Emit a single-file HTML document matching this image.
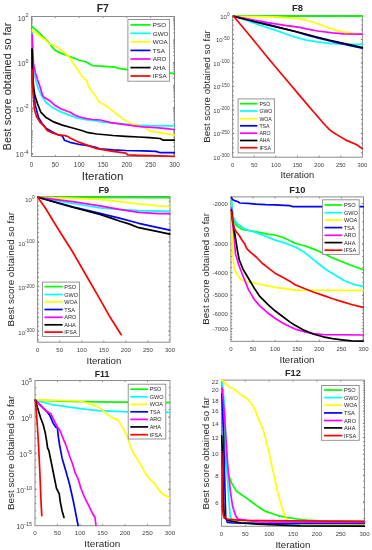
<!DOCTYPE html><html><head><meta charset="utf-8"><style>html,body{margin:0;padding:0;background:#fff;width:372px;height:550px;overflow:hidden}svg{display:block;will-change:transform}text{font-family:"Liberation Sans", sans-serif}</style></head><body>
<svg width="372" height="550" viewBox="0 0 372 550">
<rect width="372" height="550" fill="#fff"/>
<clipPath id="cF7"><rect x="30.5" y="15" width="145" height="143"/></clipPath>
<g fill="none" stroke="#8c8c8c" stroke-width="1">
<rect x="31.5" y="16.5" width="143" height="140"/>
<path d="M55.33 156.5v-1.6M55.33 16.5v1.6M79.17 156.5v-1.6M79.17 16.5v1.6M103 156.5v-1.6M103 16.5v1.6M126.83 156.5v-1.6M126.83 16.5v1.6M150.67 156.5v-1.6M150.67 16.5v1.6M31.5 62.5h1.6M174.5 62.5h-1.6M31.5 108h1.6M174.5 108h-1.6M31.5 153.5h1.6M174.5 153.5h-1.6"/>
<path d="M31.5 154.54h1.3M174.5 154.54h-1.3M31.5 153.5h1.3M174.5 153.5h-1.3M31.5 146.65h1.3M174.5 146.65h-1.3M31.5 142.65h1.3M174.5 142.65h-1.3M31.5 139.8h1.3M174.5 139.8h-1.3M31.5 137.6h1.3M174.5 137.6h-1.3M31.5 135.8h1.3M174.5 135.8h-1.3M31.5 134.27h1.3M174.5 134.27h-1.3M31.5 132.95h1.3M174.5 132.95h-1.3M31.5 131.79h1.3M174.5 131.79h-1.3M31.5 130.75h1.3M174.5 130.75h-1.3M31.5 123.9h1.3M174.5 123.9h-1.3M31.5 119.9h1.3M174.5 119.9h-1.3M31.5 117.05h1.3M174.5 117.05h-1.3M31.5 114.85h1.3M174.5 114.85h-1.3M31.5 113.05h1.3M174.5 113.05h-1.3M31.5 111.52h1.3M174.5 111.52h-1.3M31.5 110.2h1.3M174.5 110.2h-1.3M31.5 109.04h1.3M174.5 109.04h-1.3M31.5 108h1.3M174.5 108h-1.3M31.5 101.15h1.3M174.5 101.15h-1.3M31.5 97.15h1.3M174.5 97.15h-1.3M31.5 94.3h1.3M174.5 94.3h-1.3M31.5 92.1h1.3M174.5 92.1h-1.3M31.5 90.3h1.3M174.5 90.3h-1.3M31.5 88.77h1.3M174.5 88.77h-1.3M31.5 87.45h1.3M174.5 87.45h-1.3M31.5 86.29h1.3M174.5 86.29h-1.3M31.5 85.25h1.3M174.5 85.25h-1.3M31.5 78.4h1.3M174.5 78.4h-1.3M31.5 74.4h1.3M174.5 74.4h-1.3M31.5 71.55h1.3M174.5 71.55h-1.3M31.5 69.35h1.3M174.5 69.35h-1.3M31.5 67.55h1.3M174.5 67.55h-1.3M31.5 66.02h1.3M174.5 66.02h-1.3M31.5 64.7h1.3M174.5 64.7h-1.3M31.5 63.54h1.3M174.5 63.54h-1.3M31.5 62.5h1.3M174.5 62.5h-1.3M31.5 55.65h1.3M174.5 55.65h-1.3M31.5 51.65h1.3M174.5 51.65h-1.3M31.5 48.8h1.3M174.5 48.8h-1.3M31.5 46.6h1.3M174.5 46.6h-1.3M31.5 44.8h1.3M174.5 44.8h-1.3M31.5 43.27h1.3M174.5 43.27h-1.3M31.5 41.95h1.3M174.5 41.95h-1.3M31.5 40.79h1.3M174.5 40.79h-1.3M31.5 39.75h1.3M174.5 39.75h-1.3M31.5 32.9h1.3M174.5 32.9h-1.3M31.5 28.9h1.3M174.5 28.9h-1.3M31.5 26.05h1.3M174.5 26.05h-1.3M31.5 23.85h1.3M174.5 23.85h-1.3M31.5 22.05h1.3M174.5 22.05h-1.3M31.5 20.52h1.3M174.5 20.52h-1.3M31.5 19.2h1.3M174.5 19.2h-1.3M31.5 18.04h1.3M174.5 18.04h-1.3" stroke="#7a7a7a" stroke-width="0.9"/>
</g>
<g clip-path="url(#cF7)" fill="none" stroke-width="1.7" stroke-linejoin="round" stroke-linecap="round">
<path stroke="#00ff00" d="M32 26.4 L40.9 34.6 L47.4 41 L51.7 46.4 L54.9 50.3 L60 52.9 L66.5 55.3 L72.9 57.7 L79.4 60.2 L85.8 61.8 L92.3 65.5 L100.3 66.1 L108.4 66.6 L114.8 67.1 L120 68.7 L128 69.6 L150 71.5 L174 73.3"/>
<path stroke="#00ffff" d="M32.1 32.4 L32.4 56.4 L33.8 70.9 L36 81.1 L38.5 89.5 L41.2 95 L42.9 97.7 L46.1 102.5 L51.5 106.8 L59 111.1 L70 115.4 L76.1 117.7 L84 119.5 L96.8 120.9 L100 121.9 L112.9 123 L125.8 124.1 L136.6 125.2 L149.5 125.6 L174.2 125.8"/>
<path stroke="#ffff00" d="M32 30.3 L38.8 35.2 L45.2 40 L49.5 43.8 L53.8 45.3 L58.1 47.5 L60 49.4 L64.8 52.9 L68.9 56.9 L72.9 62.6 L77.7 69.8 L82.6 77.1 L86.6 80.3 L88.2 85.2 L90.6 90 L94.7 94.8 L97.1 98.9 L99.5 102.1 L105.2 105.3 L111.6 110.2 L120 116.6 L125.8 120.9 L132.3 124.1 L138.7 125.6 L145.2 127.7 L150.5 131.2 L158.1 132.3 L166.7 133.8 L174.2 134.8"/>
<path stroke="#0000ff" d="M32.1 49 L32.3 80 L33.8 95 L35.4 105.8 L38.6 117.6 L41.8 123 L46.1 128.3 L51.5 131.6 L58 134.8 L62.3 135.9 L64.4 140.2 L70 142.3 L79.6 144.5 L88.2 145.6 L96.8 147.7 L100 148.8 L112.9 149.9 L125.8 150.5 L143 150.9 L155.9 151.4 L160.2 152.7 L174.2 152.7"/>
<path stroke="#ff00ff" d="M32.1 34.5 L32.7 49.1 L33.5 63.6 L35.3 72.4 L37.5 79.6 L39.6 85.5 L41.8 92.7 L42.4 95 L44 97.2 L49.4 100.4 L54.7 105.2 L61.2 109 L70 112.2 L76.1 115.8 L84.2 118.2 L92.3 119.5 L100.3 120 L110.8 122.6 L121.5 124.1 L134.4 125.8 L143 126.9 L155.9 127.7 L166.7 128.6 L174.2 129.5"/>
<path stroke="#000000" d="M32.1 49.1 L32.4 63.6 L33.1 81.1 L34 90 L34.8 95 L37.5 103.6 L40.8 112.2 L46.1 117.6 L53.7 121.9 L62.3 125.1 L70 127.3 L81.8 130.5 L88.2 132.7 L96.8 134 L108 135 L112.9 135.5 L125.8 136.3 L138.7 137 L149.5 137.6 L160.2 138.5 L163.4 140.2 L174.2 140.2"/>
<path stroke="#ff0000" d="M32.1 69.5 L32.4 85.5 L33.2 95 L34.3 109 L36.5 116.5 L39.7 121.9 L44 126.2 L47.2 130.5 L51.5 132.6 L58 134.8 L63.3 135.3 L67.6 136.4 L70 138 L79.6 142.4 L88.2 145.6 L96.8 148.6 L100 149.2 L112.9 151.4 L125.8 153.1 L128 154.8 L138.7 155.3 L151.6 155.7 L174.2 156.3"/>
</g>
<rect x="127.9" y="19.5" width="41.5" height="61.7" fill="#fff" stroke="#8a8a8a" stroke-width="0.9"/>
<path d="M130.4 24.9H150.5" stroke="#00ff00" stroke-width="1.7"/>
<text x="152.8" y="27.15" font-size="6.25" fill="#262626">PSO</text>
<path d="M130.4 33.3H150.5" stroke="#00ffff" stroke-width="1.7"/>
<text x="152.8" y="35.55" font-size="6.25" fill="#262626">GWO</text>
<path d="M130.4 41.8H150.5" stroke="#ffff00" stroke-width="1.7"/>
<text x="152.8" y="44.05" font-size="6.25" fill="#262626">WOA</text>
<path d="M130.4 50.4H150.5" stroke="#0000ff" stroke-width="1.7"/>
<text x="152.8" y="52.65" font-size="6.25" fill="#262626">TSA</text>
<path d="M130.4 59H150.5" stroke="#ff00ff" stroke-width="1.7"/>
<text x="152.8" y="61.25" font-size="6.25" fill="#262626">ARO</text>
<path d="M130.4 67.6H150.5" stroke="#000000" stroke-width="1.7"/>
<text x="152.8" y="69.85" font-size="6.25" fill="#262626">AHA</text>
<path d="M130.4 76H150.5" stroke="#ff0000" stroke-width="1.7"/>
<text x="152.8" y="78.25" font-size="6.25" fill="#262626">IFSA</text>
<text x="102.8" y="11.8" font-size="10.4" font-weight="bold" text-anchor="middle" fill="#262626">F7</text>
<text transform="translate(11.2 86.5) rotate(-90)" font-size="11" text-anchor="middle" fill="#262626">Best score obtained so far</text>
<text x="102.5" y="180.1" font-size="11.5" text-anchor="middle" fill="#262626">Iteration</text>
<text x="31.5" y="166.6" font-size="6.4" text-anchor="middle" fill="#404040">0</text>
<text x="55.33" y="166.6" font-size="6.4" text-anchor="middle" fill="#404040">50</text>
<text x="79.17" y="166.6" font-size="6.4" text-anchor="middle" fill="#404040">100</text>
<text x="103" y="166.6" font-size="6.4" text-anchor="middle" fill="#404040">150</text>
<text x="126.83" y="166.6" font-size="6.4" text-anchor="middle" fill="#404040">200</text>
<text x="150.67" y="166.6" font-size="6.4" text-anchor="middle" fill="#404040">250</text>
<text x="174.5" y="166.6" font-size="6.4" text-anchor="middle" fill="#404040">300</text>
<text x="28.5" y="20.52" font-size="7" text-anchor="end" fill="#404040">10<tspan font-size="5.46" dy="-3.15">2</tspan></text>
<text x="28.5" y="66.02" font-size="7" text-anchor="end" fill="#404040">10<tspan font-size="5.46" dy="-3.15">0</tspan></text>
<text x="28.5" y="111.52" font-size="7" text-anchor="end" fill="#404040">10<tspan font-size="5.46" dy="-3.15">-2</tspan></text>
<text x="28.5" y="157.02" font-size="7" text-anchor="end" fill="#404040">10<tspan font-size="5.46" dy="-3.15">-4</tspan></text>
<clipPath id="cF8"><rect x="231.6" y="14.1" width="131.8" height="144.6"/></clipPath>
<g fill="none" stroke="#8c8c8c" stroke-width="1">
<rect x="232.6" y="15.6" width="129.8" height="141.6"/>
<path d="M254.23 157.2v-1.6M254.23 15.6v1.6M275.87 157.2v-1.6M275.87 15.6v1.6M297.5 157.2v-1.6M297.5 15.6v1.6M319.13 157.2v-1.6M319.13 15.6v1.6M340.77 157.2v-1.6M340.77 15.6v1.6M232.6 39.5h1.6M362.4 39.5h-1.6M232.6 63h1.6M362.4 63h-1.6M232.6 86.5h1.6M362.4 86.5h-1.6M232.6 110h1.6M362.4 110h-1.6M232.6 133.5h1.6M362.4 133.5h-1.6"/>
<path d="M232.6 20.32h1.3M362.4 20.32h-1.3M232.6 25.04h1.3M362.4 25.04h-1.3M232.6 29.76h1.3M362.4 29.76h-1.3M232.6 34.48h1.3M362.4 34.48h-1.3M232.6 39.2h1.3M362.4 39.2h-1.3M232.6 43.92h1.3M362.4 43.92h-1.3M232.6 48.64h1.3M362.4 48.64h-1.3M232.6 53.36h1.3M362.4 53.36h-1.3M232.6 58.08h1.3M362.4 58.08h-1.3M232.6 62.8h1.3M362.4 62.8h-1.3M232.6 67.52h1.3M362.4 67.52h-1.3M232.6 72.24h1.3M362.4 72.24h-1.3M232.6 76.96h1.3M362.4 76.96h-1.3M232.6 81.68h1.3M362.4 81.68h-1.3M232.6 86.4h1.3M362.4 86.4h-1.3M232.6 91.12h1.3M362.4 91.12h-1.3M232.6 95.84h1.3M362.4 95.84h-1.3M232.6 100.56h1.3M362.4 100.56h-1.3M232.6 105.28h1.3M362.4 105.28h-1.3M232.6 110h1.3M362.4 110h-1.3M232.6 114.72h1.3M362.4 114.72h-1.3M232.6 119.44h1.3M362.4 119.44h-1.3M232.6 124.16h1.3M362.4 124.16h-1.3M232.6 128.88h1.3M362.4 128.88h-1.3M232.6 133.6h1.3M362.4 133.6h-1.3M232.6 138.32h1.3M362.4 138.32h-1.3M232.6 143.04h1.3M362.4 143.04h-1.3M232.6 147.76h1.3M362.4 147.76h-1.3M232.6 152.48h1.3M362.4 152.48h-1.3" stroke="#7a7a7a" stroke-width="0.9"/>
</g>
<g clip-path="url(#cF8)" fill="none" stroke-width="1.7" stroke-linejoin="round" stroke-linecap="round">
<path stroke="#00ff00" d="M233.4 16.1 L362.4 16.1"/>
<path stroke="#00ffff" d="M233.6 16.3 L248.8 21.3 L258.2 24.6 L267.6 27.8 L276 30.4 L286.5 34.2 L295 37 L300 38.4 L306.3 40.1 L317.6 41.9 L328.9 43.3 L340.2 43.9 L351.5 44.3 L362.4 44.4"/>
<path stroke="#ffff00" d="M233.6 16.4 L258.2 16.6 L277 17.2 L290 17.8 L298 18.6 L306.3 20.3 L317.6 23.5 L327 27.3 L336.4 30.4 L345.8 32.4 L355.2 33.7 L362.4 34.1"/>
<path stroke="#0000ff" d="M233.6 16.3 L248.8 19.6 L267.6 24.4 L286.5 29.2 L295 31.5 L306.3 34.9 L317.6 37.9 L328.9 40.8 L340.2 43.5 L351.5 46 L362.4 48.2"/>
<path stroke="#ff00ff" d="M233.6 16.3 L248.8 19.2 L267.6 22.6 L286.5 25.6 L300 27.4 L306.3 28.8 L317.6 31 L332.6 32.9 L343.9 33.8 L362.4 34.1"/>
<path stroke="#000000" d="M233.6 16.3 L248.8 20.3 L267.6 25 L286.5 29.4 L295 31.3 L306.3 34.3 L317.6 37.2 L328.9 40 L340.2 42.5 L351.5 45.2 L362.4 47.6"/>
<path stroke="#ff0000" d="M233.6 16.3 L250.3 36.2 L267.6 57.5 L280.2 72.5 L290.4 84.5 L300.6 96.6 L310.9 108.8 L321.1 120.5 L325.5 125.5 L329.5 129.6 L333 132.3 L336.4 134.4 L346.6 140.4 L356.8 144.8 L362.2 148.6"/>
</g>
<rect x="238.1" y="98.9" width="36.3" height="54" fill="#fff" stroke="#8a8a8a" stroke-width="0.9"/>
<path d="M240 103.7H257.4" stroke="#00ff00" stroke-width="1.7"/>
<text x="259.4" y="105.57" font-size="5.2" fill="#262626">PSO</text>
<path d="M240 111H257.4" stroke="#00ffff" stroke-width="1.7"/>
<text x="259.4" y="112.87" font-size="5.2" fill="#262626">GWO</text>
<path d="M240 118.7H257.4" stroke="#ffff00" stroke-width="1.7"/>
<text x="259.4" y="120.57" font-size="5.2" fill="#262626">WOA</text>
<path d="M240 125.8H257.4" stroke="#0000ff" stroke-width="1.7"/>
<text x="259.4" y="127.67" font-size="5.2" fill="#262626">TSA</text>
<path d="M240 133.2H257.4" stroke="#ff00ff" stroke-width="1.7"/>
<text x="259.4" y="135.07" font-size="5.2" fill="#262626">ARO</text>
<path d="M240 140.5H257.4" stroke="#000000" stroke-width="1.7"/>
<text x="259.4" y="142.37" font-size="5.2" fill="#262626">AHA</text>
<path d="M240 147.7H257.4" stroke="#ff0000" stroke-width="1.7"/>
<text x="259.4" y="149.57" font-size="5.2" fill="#262626">IFSA</text>
<text x="297.6" y="11.3" font-size="9.4" font-weight="bold" text-anchor="middle" fill="#262626">F8</text>
<text transform="translate(209.8 86.5) rotate(-90)" font-size="9.7" text-anchor="middle" fill="#262626">Best score obtained so far</text>
<text x="297.3" y="178.2" font-size="9.3" text-anchor="middle" fill="#262626">Iteration</text>
<text x="232.6" y="166.59" font-size="5.8" text-anchor="middle" fill="#404040">0</text>
<text x="254.23" y="166.59" font-size="5.8" text-anchor="middle" fill="#404040">50</text>
<text x="275.87" y="166.59" font-size="5.8" text-anchor="middle" fill="#404040">100</text>
<text x="297.5" y="166.59" font-size="5.8" text-anchor="middle" fill="#404040">150</text>
<text x="319.13" y="166.59" font-size="5.8" text-anchor="middle" fill="#404040">200</text>
<text x="340.77" y="166.59" font-size="5.8" text-anchor="middle" fill="#404040">250</text>
<text x="362.4" y="166.59" font-size="5.8" text-anchor="middle" fill="#404040">300</text>
<text x="229.6" y="18.96" font-size="6" text-anchor="end" fill="#404040">10<tspan font-size="4.8" dy="-2.7">0</tspan></text>
<text x="229.6" y="42.46" font-size="6" text-anchor="end" fill="#404040">10<tspan font-size="4.8" dy="-2.7">-50</tspan></text>
<text x="229.6" y="65.96" font-size="6" text-anchor="end" fill="#404040">10<tspan font-size="4.8" dy="-2.7">-100</tspan></text>
<text x="229.6" y="89.46" font-size="6" text-anchor="end" fill="#404040">10<tspan font-size="4.8" dy="-2.7">-150</tspan></text>
<text x="229.6" y="112.96" font-size="6" text-anchor="end" fill="#404040">10<tspan font-size="4.8" dy="-2.7">-200</tspan></text>
<text x="229.6" y="136.46" font-size="6" text-anchor="end" fill="#404040">10<tspan font-size="4.8" dy="-2.7">-250</tspan></text>
<text x="229.6" y="159.96" font-size="6" text-anchor="end" fill="#404040">10<tspan font-size="4.8" dy="-2.7">-300</tspan></text>
<clipPath id="cF9"><rect x="36.6" y="195" width="134.4" height="148.7"/></clipPath>
<g fill="none" stroke="#8c8c8c" stroke-width="1">
<rect x="37.6" y="196.5" width="132.4" height="145.7"/>
<path d="M59.67 342.2v-1.6M59.67 196.5v1.6M81.73 342.2v-1.6M81.73 196.5v1.6M103.8 342.2v-1.6M103.8 196.5v1.6M125.87 342.2v-1.6M125.87 196.5v1.6M147.93 342.2v-1.6M147.93 196.5v1.6M37.6 198.2h1.6M170 198.2h-1.6M37.6 242.5h1.6M170 242.5h-1.6M37.6 286.8h1.6M170 286.8h-1.6M37.6 331h1.6M170 331h-1.6"/>
<path d="M37.6 201.27h1.3M170 201.27h-1.3M37.6 205.74h1.3M170 205.74h-1.3M37.6 210.21h1.3M170 210.21h-1.3M37.6 214.68h1.3M170 214.68h-1.3M37.6 219.15h1.3M170 219.15h-1.3M37.6 223.62h1.3M170 223.62h-1.3M37.6 228.09h1.3M170 228.09h-1.3M37.6 232.56h1.3M170 232.56h-1.3M37.6 237.03h1.3M170 237.03h-1.3M37.6 241.5h1.3M170 241.5h-1.3M37.6 245.97h1.3M170 245.97h-1.3M37.6 250.44h1.3M170 250.44h-1.3M37.6 254.91h1.3M170 254.91h-1.3M37.6 259.38h1.3M170 259.38h-1.3M37.6 263.85h1.3M170 263.85h-1.3M37.6 268.32h1.3M170 268.32h-1.3M37.6 272.79h1.3M170 272.79h-1.3M37.6 277.26h1.3M170 277.26h-1.3M37.6 281.73h1.3M170 281.73h-1.3M37.6 286.2h1.3M170 286.2h-1.3M37.6 290.67h1.3M170 290.67h-1.3M37.6 295.14h1.3M170 295.14h-1.3M37.6 299.61h1.3M170 299.61h-1.3M37.6 304.08h1.3M170 304.08h-1.3M37.6 308.55h1.3M170 308.55h-1.3M37.6 313.02h1.3M170 313.02h-1.3M37.6 317.49h1.3M170 317.49h-1.3M37.6 321.96h1.3M170 321.96h-1.3M37.6 326.43h1.3M170 326.43h-1.3M37.6 330.9h1.3M170 330.9h-1.3M37.6 335.37h1.3M170 335.37h-1.3M37.6 339.84h1.3M170 339.84h-1.3" stroke="#7a7a7a" stroke-width="0.9"/>
</g>
<g clip-path="url(#cF9)" fill="none" stroke-width="1.7" stroke-linejoin="round" stroke-linecap="round">
<path stroke="#00ff00" d="M37.8 197.3 L169.8 197.6"/>
<path stroke="#00ffff" d="M37.8 197.3 L72.6 203.5 L88 206 L100 207.8 L119.4 209.4 L138.7 210.7 L169.8 211.3"/>
<path stroke="#ffff00" d="M37.8 197.3 L72.6 198.4 L100 199.3 L119.4 201.6 L138.7 203.9 L158.1 205.9 L169.8 206.5"/>
<path stroke="#0000ff" d="M37.8 197.3 L72.6 206.9 L100 213.4 L119.4 218.1 L138.7 223.3 L158.1 227.7 L169.8 230.1"/>
<path stroke="#ff00ff" d="M37.8 197.3 L72.6 201.7 L100 205.8 L119.4 209.4 L138.7 212.3 L158.1 213.6 L169.8 213.6"/>
<path stroke="#000000" d="M37.8 197.3 L72.6 207.3 L100 214.5 L109.7 217.6 L119.4 221 L129 223.9 L138.7 227.7 L148.4 229.7 L158.1 231.6 L169.8 234.1"/>
<path stroke="#ff0000" d="M37.8 197.3 L46.3 209.5 L53.8 222 L63.2 237 L72.4 251.5 L84.5 272.5 L97.6 295.2 L108.9 315.2 L121.2 334.7"/>
</g>
<rect x="42.5" y="282.1" width="37" height="54.4" fill="#fff" stroke="#8a8a8a" stroke-width="0.9"/>
<path d="M44.4 286.6H62.6" stroke="#00ff00" stroke-width="1.7"/>
<text x="64.2" y="288.62" font-size="5.6" fill="#262626">PSO</text>
<path d="M44.4 294.5H62.6" stroke="#00ffff" stroke-width="1.7"/>
<text x="64.2" y="296.52" font-size="5.6" fill="#262626">GWO</text>
<path d="M44.4 301.9H62.6" stroke="#ffff00" stroke-width="1.7"/>
<text x="64.2" y="303.92" font-size="5.6" fill="#262626">WOA</text>
<path d="M44.4 309.5H62.6" stroke="#0000ff" stroke-width="1.7"/>
<text x="64.2" y="311.52" font-size="5.6" fill="#262626">TSA</text>
<path d="M44.4 317.3H62.6" stroke="#ff00ff" stroke-width="1.7"/>
<text x="64.2" y="319.32" font-size="5.6" fill="#262626">ARO</text>
<path d="M44.4 324.8H62.6" stroke="#000000" stroke-width="1.7"/>
<text x="64.2" y="326.82" font-size="5.6" fill="#262626">AHA</text>
<path d="M44.4 332.1H62.6" stroke="#ff0000" stroke-width="1.7"/>
<text x="64.2" y="334.12" font-size="5.6" fill="#262626">IFSA</text>
<text x="103.8" y="193" font-size="9.2" font-weight="bold" text-anchor="middle" fill="#262626">F9</text>
<text transform="translate(13.6 269.2) rotate(-90)" font-size="9.85" text-anchor="middle" fill="#262626">Best score obtained so far</text>
<text x="103.9" y="363.6" font-size="9.6" text-anchor="middle" fill="#262626">Iteration</text>
<text x="37.6" y="351.56" font-size="6" text-anchor="middle" fill="#404040">0</text>
<text x="59.67" y="351.56" font-size="6" text-anchor="middle" fill="#404040">50</text>
<text x="81.73" y="351.56" font-size="6" text-anchor="middle" fill="#404040">100</text>
<text x="103.8" y="351.56" font-size="6" text-anchor="middle" fill="#404040">150</text>
<text x="125.87" y="351.56" font-size="6" text-anchor="middle" fill="#404040">200</text>
<text x="147.93" y="351.56" font-size="6" text-anchor="middle" fill="#404040">250</text>
<text x="170" y="351.56" font-size="6" text-anchor="middle" fill="#404040">300</text>
<text x="34.6" y="201.76" font-size="6" text-anchor="end" fill="#404040">10<tspan font-size="4.8" dy="-2.7">0</tspan></text>
<text x="34.6" y="246.06" font-size="6" text-anchor="end" fill="#404040">10<tspan font-size="4.8" dy="-2.7">-100</tspan></text>
<text x="34.6" y="290.36" font-size="6" text-anchor="end" fill="#404040">10<tspan font-size="4.8" dy="-2.7">-200</tspan></text>
<text x="34.6" y="334.56" font-size="6" text-anchor="end" fill="#404040">10<tspan font-size="4.8" dy="-2.7">-300</tspan></text>
<clipPath id="cF10"><rect x="229.9" y="195.4" width="134.6" height="147.5"/></clipPath>
<g fill="none" stroke="#8c8c8c" stroke-width="1">
<rect x="230.9" y="196.9" width="132.6" height="144.5"/>
<path d="M253 341.4v-1.6M253 196.9v1.6M275.1 341.4v-1.6M275.1 196.9v1.6M297.2 341.4v-1.6M297.2 196.9v1.6M319.3 341.4v-1.6M319.3 196.9v1.6M341.4 341.4v-1.6M341.4 196.9v1.6M230.9 203.5h1.6M363.5 203.5h-1.6M230.9 244.2h1.6M363.5 244.2h-1.6M230.9 272.6h1.6M363.5 272.6h-1.6M230.9 295.3h1.6M363.5 295.3h-1.6M230.9 313.4h1.6M363.5 313.4h-1.6M230.9 328.7h1.6M363.5 328.7h-1.6"/>
<path d="M230.9 203.5h1.3M363.5 203.5h-1.3M230.9 213.02h1.3M363.5 213.02h-1.3M230.9 221.71h1.3M363.5 221.71h-1.3M230.9 229.71h1.3M363.5 229.71h-1.3M230.9 237.11h1.3M363.5 237.11h-1.3M230.9 244h1.3M363.5 244h-1.3M230.9 250.45h1.3M363.5 250.45h-1.3M230.9 256.5h1.3M363.5 256.5h-1.3M230.9 262.21h1.3M363.5 262.21h-1.3M230.9 267.61h1.3M363.5 267.61h-1.3M230.9 272.74h1.3M363.5 272.74h-1.3M230.9 277.61h1.3M363.5 277.61h-1.3M230.9 282.26h1.3M363.5 282.26h-1.3M230.9 286.7h1.3M363.5 286.7h-1.3M230.9 290.95h1.3M363.5 290.95h-1.3M230.9 295.03h1.3M363.5 295.03h-1.3M230.9 298.94h1.3M363.5 298.94h-1.3M230.9 302.71h1.3M363.5 302.71h-1.3M230.9 306.35h1.3M363.5 306.35h-1.3M230.9 309.85h1.3M363.5 309.85h-1.3M230.9 313.24h1.3M363.5 313.24h-1.3M230.9 316.51h1.3M363.5 316.51h-1.3M230.9 319.68h1.3M363.5 319.68h-1.3M230.9 322.76h1.3M363.5 322.76h-1.3M230.9 325.74h1.3M363.5 325.74h-1.3M230.9 328.64h1.3M363.5 328.64h-1.3M230.9 331.45h1.3M363.5 331.45h-1.3M230.9 334.19h1.3M363.5 334.19h-1.3M230.9 336.85h1.3M363.5 336.85h-1.3M230.9 339.44h1.3M363.5 339.44h-1.3" stroke="#7a7a7a" stroke-width="0.9"/>
</g>
<g clip-path="url(#cF10)" fill="none" stroke-width="1.7" stroke-linejoin="round" stroke-linecap="round">
<path stroke="#00ff00" d="M231.5 200.9 L232.1 208.6 L233 216.8 L234.4 222.3 L236.2 225 L238.9 227.3 L242.5 229.5 L248 230.5 L252.5 231.1 L260 232.6 L267.5 234.1 L275 235 L282.6 237.3 L290.1 240.7 L295 243.2 L304.4 245.7 L313.8 249.1 L323.2 253.2 L332.6 257.9 L342 261.7 L351.5 265.5 L363.1 269.8"/>
<path stroke="#00ffff" d="M231.5 201.4 L232.1 209.5 L233.5 217.7 L235.3 221.4 L238 224.1 L241.6 226.8 L246.2 229.5 L256.2 232.6 L265.6 236.3 L275 240.1 L284.5 242.9 L292 245.8 L298 248.4 L304.4 252.3 L313.8 259.8 L319.5 264.5 L327 270.2 L336.4 275.8 L343.9 280.5 L353.3 284.3 L363.1 286.4"/>
<path stroke="#ffff00" d="M231.5 212 L232.1 240 L233.3 260 L234.6 269.4 L237.4 275.1 L241.2 279.8 L246.8 281.6 L256.2 283.5 L265.6 285.4 L275 287.3 L284.5 288.6 L295 290.1 L363.1 290.3"/>
<path stroke="#0000ff" d="M231.5 197.3 L232.4 199.5 L235.3 200.9 L238 201.8 L239.8 203 L248 203.4 L256.2 204.2 L265.6 204.7 L275 204.9 L284.5 205.3 L290.1 205.7 L292.9 206.6 L363.2 206.6"/>
<path stroke="#ff00ff" d="M231.5 208.2 L232.5 222.3 L233.6 231.4 L234.8 245 L235.5 254.2 L237.4 260 L238.4 264 L241.2 271.3 L244.9 280.7 L248.7 290.1 L254.3 299.5 L260 306.1 L267.5 312.7 L275 318.3 L282.6 323 L290.1 326.8 L295 329.1 L304.4 331.8 L313.8 333.6 L323.2 334.6 L363.1 335"/>
<path stroke="#000000" d="M231.5 210 L233 222.3 L234.4 231.4 L236.2 242.3 L237.4 250.5 L239.3 260 L243.1 269.4 L248.7 278.8 L254.3 288.2 L260 296.7 L267.5 304.2 L275 310.8 L282.6 316.5 L290.1 322.1 L295 325.2 L304.4 330.4 L313.8 334.2 L323.2 336.8 L332.6 338.7 L342 339.8 L351.5 340.8 L363.1 341.2"/>
<path stroke="#ff0000" d="M231.5 211.8 L232.5 220.5 L234.4 228.6 L236.6 232.3 L238.9 235 L241.6 239.5 L244.8 244.1 L246.8 248.6 L250.6 252.3 L256.2 257 L259.1 260 L262.8 263.8 L265.6 265.8 L275 273.2 L284.5 278.2 L292 282.6 L295 284.7 L304.4 288.5 L313.8 292.2 L323.2 295.4 L332.6 298.8 L342 301.6 L351.5 304.5 L363.1 307.3"/>
</g>
<rect x="322.6" y="199.8" width="36.6" height="54.6" fill="#fff" stroke="#8a8a8a" stroke-width="0.9"/>
<path d="M324.5 205H342.3" stroke="#00ff00" stroke-width="1.7"/>
<text x="343.9" y="207.02" font-size="5.6" fill="#262626">PSO</text>
<path d="M324.5 212.7H342.3" stroke="#00ffff" stroke-width="1.7"/>
<text x="343.9" y="214.72" font-size="5.6" fill="#262626">GWO</text>
<path d="M324.5 220H342.3" stroke="#ffff00" stroke-width="1.7"/>
<text x="343.9" y="222.02" font-size="5.6" fill="#262626">WOA</text>
<path d="M324.5 227.6H342.3" stroke="#0000ff" stroke-width="1.7"/>
<text x="343.9" y="229.62" font-size="5.6" fill="#262626">TSA</text>
<path d="M324.5 235.3H342.3" stroke="#ff00ff" stroke-width="1.7"/>
<text x="343.9" y="237.32" font-size="5.6" fill="#262626">ARO</text>
<path d="M324.5 242.6H342.3" stroke="#000000" stroke-width="1.7"/>
<text x="343.9" y="244.62" font-size="5.6" fill="#262626">AHA</text>
<path d="M324.5 250.2H342.3" stroke="#ff0000" stroke-width="1.7"/>
<text x="343.9" y="252.22" font-size="5.6" fill="#262626">IFSA</text>
<text x="297.3" y="193" font-size="9.3" font-weight="bold" text-anchor="middle" fill="#262626">F10</text>
<text transform="translate(208.8 268.9) rotate(-90)" font-size="9.6" text-anchor="middle" fill="#262626">Best score obtained so far</text>
<text x="297" y="363.1" font-size="9.7" text-anchor="middle" fill="#262626">Iteration</text>
<text x="230.9" y="350.86" font-size="6" text-anchor="middle" fill="#404040">0</text>
<text x="253" y="350.86" font-size="6" text-anchor="middle" fill="#404040">50</text>
<text x="275.1" y="350.86" font-size="6" text-anchor="middle" fill="#404040">100</text>
<text x="297.2" y="350.86" font-size="6" text-anchor="middle" fill="#404040">150</text>
<text x="319.3" y="350.86" font-size="6" text-anchor="middle" fill="#404040">200</text>
<text x="341.4" y="350.86" font-size="6" text-anchor="middle" fill="#404040">250</text>
<text x="363.5" y="350.86" font-size="6" text-anchor="middle" fill="#404040">300</text>
<text x="227.9" y="205.66" font-size="6" text-anchor="end" fill="#404040">-2000</text>
<text x="227.9" y="246.36" font-size="6" text-anchor="end" fill="#404040">-3000</text>
<text x="227.9" y="274.76" font-size="6" text-anchor="end" fill="#404040">-4000</text>
<text x="227.9" y="297.46" font-size="6" text-anchor="end" fill="#404040">-5000</text>
<text x="227.9" y="315.56" font-size="6" text-anchor="end" fill="#404040">-6000</text>
<text x="227.9" y="330.86" font-size="6" text-anchor="end" fill="#404040">-7000</text>
<clipPath id="cF11"><rect x="34" y="379" width="137" height="148.2"/></clipPath>
<g fill="none" stroke="#8c8c8c" stroke-width="1">
<rect x="35" y="380.5" width="135" height="145.2"/>
<path d="M57.5 525.7v-1.6M57.5 380.5v1.6M80 525.7v-1.6M80 380.5v1.6M102.5 525.7v-1.6M102.5 380.5v1.6M125 525.7v-1.6M125 380.5v1.6M147.5 525.7v-1.6M147.5 380.5v1.6M35 417.4h1.6M170 417.4h-1.6M35 453.6h1.6M170 453.6h-1.6M35 489.6h1.6M170 489.6h-1.6"/>
<path d="M35 387.74h1.3M170 387.74h-1.3M35 394.98h1.3M170 394.98h-1.3M35 402.22h1.3M170 402.22h-1.3M35 409.46h1.3M170 409.46h-1.3M35 416.7h1.3M170 416.7h-1.3M35 423.94h1.3M170 423.94h-1.3M35 431.18h1.3M170 431.18h-1.3M35 438.42h1.3M170 438.42h-1.3M35 445.66h1.3M170 445.66h-1.3M35 452.9h1.3M170 452.9h-1.3M35 460.14h1.3M170 460.14h-1.3M35 467.38h1.3M170 467.38h-1.3M35 474.62h1.3M170 474.62h-1.3M35 481.86h1.3M170 481.86h-1.3M35 489.1h1.3M170 489.1h-1.3M35 496.34h1.3M170 496.34h-1.3M35 503.58h1.3M170 503.58h-1.3M35 510.82h1.3M170 510.82h-1.3M35 518.06h1.3M170 518.06h-1.3" stroke="#7a7a7a" stroke-width="0.9"/>
</g>
<g clip-path="url(#cF11)" fill="none" stroke-width="1.7" stroke-linejoin="round" stroke-linecap="round">
<path stroke="#00ff00" d="M35.4 400.2 L69.6 401.3 L98 401.9 L169.6 402.6"/>
<path stroke="#00ffff" d="M35.4 400.2 L50.8 404.3 L69.6 407.2 L88.5 409.6 L98 410.6 L127.8 411.9 L169.6 412.4"/>
<path stroke="#ffff00" d="M35.4 399.8 L79 401 L88.5 403.4 L96 406.2 L98 406.9 L102 409.9 L108 414.9 L112.9 417.9 L116.9 419.4 L119.9 422.8 L123.9 429.8 L127.8 437.7 L130.8 447.7 L134.8 455.4 L138.2 460.6 L141.7 466.2 L143.8 470.4 L146.6 475.3 L150.1 479.5 L153.5 482.3 L157 487.2 L160.5 492 L164.7 495.5 L169.6 497.2"/>
<path stroke="#0000ff" d="M35.4 400.2 L41.4 406.2 L47.1 411.9 L49.9 415.6 L52.7 422.2 L55.5 426.9 L57.4 427.9 L58.3 436.3 L59.6 445 L62.1 458.2 L65.9 471.3 L69.6 484.5 L73.4 501.5 L78.1 525.5"/>
<path stroke="#ff00ff" d="M35.4 400.2 L39.5 404.3 L45.2 410 L48.9 412.8 L50.8 413.8 L54.6 421.3 L57.4 426.9 L60.2 430.7 L63 438.2 L65.9 445 L67.6 450 L69.6 456.3 L72.5 463.8 L75.3 473.2 L78.1 478.9 L80.9 488.3 L84.7 497.7 L88.5 505.2 L92.2 512.7 L95 517.5 L96 525.5"/>
<path stroke="#000000" d="M35.4 400.2 L37.6 408.1 L40.5 417.5 L43.3 425 L45.2 432.6 L46.5 440.1 L47.6 448 L48.9 450.6 L50.8 460.1 L52.7 469.5 L54.6 478.9 L56.5 488.3 L59.3 493.9 L60.2 501.5 L62.1 510.9 L64 517.5"/>
<path stroke="#ff0000" d="M35.4 400.2 L37.3 425 L38.6 446 L39.9 473.2 L41 501.5 L41.8 515.6"/>
</g>
<rect x="128.2" y="384.2" width="37.6" height="54.8" fill="#fff" stroke="#8a8a8a" stroke-width="0.9"/>
<path d="M130.3 389.2H148.1" stroke="#00ff00" stroke-width="1.7"/>
<text x="149.7" y="391.18" font-size="5.5" fill="#262626">PSO</text>
<path d="M130.3 396.8H148.1" stroke="#00ffff" stroke-width="1.7"/>
<text x="149.7" y="398.78" font-size="5.5" fill="#262626">GWO</text>
<path d="M130.3 404.4H148.1" stroke="#ffff00" stroke-width="1.7"/>
<text x="149.7" y="406.38" font-size="5.5" fill="#262626">WOA</text>
<path d="M130.3 411.8H148.1" stroke="#0000ff" stroke-width="1.7"/>
<text x="149.7" y="413.78" font-size="5.5" fill="#262626">TSA</text>
<path d="M130.3 419.4H148.1" stroke="#ff00ff" stroke-width="1.7"/>
<text x="149.7" y="421.38" font-size="5.5" fill="#262626">ARO</text>
<path d="M130.3 426.9H148.1" stroke="#000000" stroke-width="1.7"/>
<text x="149.7" y="428.88" font-size="5.5" fill="#262626">AHA</text>
<path d="M130.3 434.7H148.1" stroke="#ff0000" stroke-width="1.7"/>
<text x="149.7" y="436.68" font-size="5.5" fill="#262626">IFSA</text>
<text x="102" y="376.5" font-size="8.8" font-weight="bold" text-anchor="middle" fill="#262626">F11</text>
<text transform="translate(14.4 452.8) rotate(-90)" font-size="9.85" text-anchor="middle" fill="#262626">Best score obtained so far</text>
<text x="102.3" y="547" font-size="9.95" text-anchor="middle" fill="#262626">Iteration</text>
<text x="35" y="534.83" font-size="6.2" text-anchor="middle" fill="#404040">0</text>
<text x="57.5" y="534.83" font-size="6.2" text-anchor="middle" fill="#404040">50</text>
<text x="80" y="534.83" font-size="6.2" text-anchor="middle" fill="#404040">100</text>
<text x="102.5" y="534.83" font-size="6.2" text-anchor="middle" fill="#404040">150</text>
<text x="125" y="534.83" font-size="6.2" text-anchor="middle" fill="#404040">200</text>
<text x="147.5" y="534.83" font-size="6.2" text-anchor="middle" fill="#404040">250</text>
<text x="170" y="534.83" font-size="6.2" text-anchor="middle" fill="#404040">300</text>
<text x="32" y="384.72" font-size="7" text-anchor="end" fill="#404040">10<tspan font-size="5.46" dy="-3.15">5</tspan></text>
<text x="32" y="420.92" font-size="7" text-anchor="end" fill="#404040">10<tspan font-size="5.46" dy="-3.15">0</tspan></text>
<text x="32" y="457.12" font-size="7" text-anchor="end" fill="#404040">10<tspan font-size="5.46" dy="-3.15">-5</tspan></text>
<text x="32" y="493.12" font-size="7" text-anchor="end" fill="#404040">10<tspan font-size="5.46" dy="-3.15">-10</tspan></text>
<text x="32" y="529.02" font-size="7" text-anchor="end" fill="#404040">10<tspan font-size="5.46" dy="-3.15">-15</tspan></text>
<clipPath id="cF12"><rect x="220.5" y="378.6" width="145" height="149.2"/></clipPath>
<g fill="none" stroke="#8c8c8c" stroke-width="1">
<rect x="221.5" y="380.1" width="143" height="146.2"/>
<path d="M245.33 526.3v-1.6M245.33 380.1v1.6M269.17 526.3v-1.6M269.17 380.1v1.6M293 526.3v-1.6M293 380.1v1.6M316.83 526.3v-1.6M316.83 380.1v1.6M340.67 526.3v-1.6M340.67 380.1v1.6M221.5 381.5h1.6M364.5 381.5h-1.6M221.5 390.3h1.6M364.5 390.3h-1.6M221.5 400.5h1.6M364.5 400.5h-1.6M221.5 411.1h1.6M364.5 411.1h-1.6M221.5 423.4h1.6M364.5 423.4h-1.6M221.5 437.5h1.6M364.5 437.5h-1.6M221.5 454.2h1.6M364.5 454.2h-1.6M221.5 475.6h1.6M364.5 475.6h-1.6M221.5 502.6h1.6M364.5 502.6h-1.6"/>
<path d="M221.5 518.56h1.3M364.5 518.56h-1.3M221.5 509.74h1.3M364.5 509.74h-1.3M221.5 501.69h1.3M364.5 501.69h-1.3M221.5 494.29h1.3M364.5 494.29h-1.3M221.5 487.43h1.3M364.5 487.43h-1.3M221.5 481.05h1.3M364.5 481.05h-1.3M221.5 475.08h1.3M364.5 475.08h-1.3M221.5 469.47h1.3M364.5 469.47h-1.3M221.5 464.18h1.3M364.5 464.18h-1.3M221.5 459.18h1.3M364.5 459.18h-1.3M221.5 454.44h1.3M364.5 454.44h-1.3M221.5 449.92h1.3M364.5 449.92h-1.3M221.5 445.62h1.3M364.5 445.62h-1.3M221.5 441.51h1.3M364.5 441.51h-1.3M221.5 437.57h1.3M364.5 437.57h-1.3M221.5 433.79h1.3M364.5 433.79h-1.3M221.5 430.17h1.3M364.5 430.17h-1.3M221.5 426.67h1.3M364.5 426.67h-1.3M221.5 423.31h1.3M364.5 423.31h-1.3M221.5 420.06h1.3M364.5 420.06h-1.3M221.5 416.93h1.3M364.5 416.93h-1.3M221.5 413.9h1.3M364.5 413.9h-1.3M221.5 410.96h1.3M364.5 410.96h-1.3M221.5 408.11h1.3M364.5 408.11h-1.3M221.5 405.35h1.3M364.5 405.35h-1.3M221.5 402.67h1.3M364.5 402.67h-1.3M221.5 400.06h1.3M364.5 400.06h-1.3M221.5 397.53h1.3M364.5 397.53h-1.3M221.5 395.06h1.3M364.5 395.06h-1.3M221.5 392.66h1.3M364.5 392.66h-1.3M221.5 390.32h1.3M364.5 390.32h-1.3M221.5 388.03h1.3M364.5 388.03h-1.3M221.5 385.8h1.3M364.5 385.8h-1.3M221.5 383.63h1.3M364.5 383.63h-1.3M221.5 381.5h1.3M364.5 381.5h-1.3" stroke="#7a7a7a" stroke-width="0.9"/>
</g>
<g clip-path="url(#cF12)" fill="none" stroke-width="1.7" stroke-linejoin="round" stroke-linecap="round">
<path stroke="#00ff00" d="M221.8 380.5 L223.6 410 L224.6 436 L225.3 455.5 L226.5 467 L228.8 475.9 L231.9 483.6 L236.5 491.4 L241.2 494.5 L245.8 497.6 L250.5 501 L255.6 504.9 L261.3 508.7 L265.1 511.1 L272.6 513.8 L280.1 516.2 L287.6 517.7 L297 519 L306.5 520.2 L320 520.8 L364.4 521.4"/>
<path stroke="#00ffff" d="M221.7 380.3 L223 390 L225 410 L225.7 440 L226.5 460 L227.3 475.9 L228.8 499.1 L230.4 517.6 L231.9 520.7 L240 522.5 L260 524 L364.4 525.3"/>
<path stroke="#ffff00" d="M221.8 380.1 L225.5 383.5 L229.3 386.9 L233.1 388.8 L236.8 391.1 L240.6 394.8 L244.3 396.7 L248.1 399.5 L251.9 404.2 L255.6 410.8 L258.5 419.3 L262.2 426.8 L265 436.2 L267.3 446 L268.8 451.3 L271.6 464.5 L274.5 477.6 L278.2 494.6 L282 507.7 L285.8 518.1 L287.5 521.5 L300 523.9 L364.4 524.3"/>
<path stroke="#0000ff" d="M221.8 394 L222.6 410 L223.5 436 L224.1 455.5 L225 491.4 L225.7 517.6 L227.3 522.3 L233.5 523 L258 523.5 L364.4 523.3"/>
<path stroke="#ff00ff" d="M222.2 388.2 L224 410 L225.8 436 L227.1 455.5 L228 468.2 L230.4 491.4 L232.7 506.8 L235.8 516.1 L238.1 519.2 L258 521.8 L364.4 522.3"/>
<path stroke="#000000" d="M221.7 435.9 L222.5 455.5 L223.4 500 L224.2 517.6 L228.8 520.7 L241.2 523 L258 524.1 L300 525.8 L364.4 526.2"/>
<path stroke="#ff0000" d="M221.7 451.8 L222.3 475 L222.3 506.8 L223.4 516.1 L227.3 519.2 L241.2 520.3 L258 520.5 L364.4 521.4"/>
</g>
<rect x="321.6" y="385.5" width="37.6" height="54.8" fill="#fff" stroke="#8a8a8a" stroke-width="0.9"/>
<path d="M324 390H342.3" stroke="#00ff00" stroke-width="1.7"/>
<text x="343.9" y="392.02" font-size="5.6" fill="#262626">PSO</text>
<path d="M324 397.6H342.3" stroke="#00ffff" stroke-width="1.7"/>
<text x="343.9" y="399.62" font-size="5.6" fill="#262626">GWO</text>
<path d="M324 405.2H342.3" stroke="#ffff00" stroke-width="1.7"/>
<text x="343.9" y="407.22" font-size="5.6" fill="#262626">WOA</text>
<path d="M324 412.9H342.3" stroke="#0000ff" stroke-width="1.7"/>
<text x="343.9" y="414.92" font-size="5.6" fill="#262626">TSA</text>
<path d="M324 420.5H342.3" stroke="#ff00ff" stroke-width="1.7"/>
<text x="343.9" y="422.52" font-size="5.6" fill="#262626">ARO</text>
<path d="M324 427.9H342.3" stroke="#000000" stroke-width="1.7"/>
<text x="343.9" y="429.92" font-size="5.6" fill="#262626">AHA</text>
<path d="M324 435.6H342.3" stroke="#ff0000" stroke-width="1.7"/>
<text x="343.9" y="437.62" font-size="5.6" fill="#262626">IFSA</text>
<text x="292.9" y="375.7" font-size="9.3" font-weight="bold" text-anchor="middle" fill="#262626">F12</text>
<text transform="translate(208.5 453.2) rotate(-90)" font-size="9.7" text-anchor="middle" fill="#262626">Best score obtained so far</text>
<text x="292.9" y="547.6" font-size="9.7" text-anchor="middle" fill="#262626">Iteration</text>
<text x="221.5" y="535.66" font-size="6" text-anchor="middle" fill="#404040">0</text>
<text x="245.33" y="535.66" font-size="6" text-anchor="middle" fill="#404040">50</text>
<text x="269.17" y="535.66" font-size="6" text-anchor="middle" fill="#404040">100</text>
<text x="293" y="535.66" font-size="6" text-anchor="middle" fill="#404040">150</text>
<text x="316.83" y="535.66" font-size="6" text-anchor="middle" fill="#404040">200</text>
<text x="340.67" y="535.66" font-size="6" text-anchor="middle" fill="#404040">250</text>
<text x="364.5" y="535.66" font-size="6" text-anchor="middle" fill="#404040">300</text>
<text x="218.5" y="383.66" font-size="6" text-anchor="end" fill="#404040">22</text>
<text x="218.5" y="392.46" font-size="6" text-anchor="end" fill="#404040">20</text>
<text x="218.5" y="402.66" font-size="6" text-anchor="end" fill="#404040">18</text>
<text x="218.5" y="413.26" font-size="6" text-anchor="end" fill="#404040">16</text>
<text x="218.5" y="425.56" font-size="6" text-anchor="end" fill="#404040">14</text>
<text x="218.5" y="439.66" font-size="6" text-anchor="end" fill="#404040">12</text>
<text x="218.5" y="456.36" font-size="6" text-anchor="end" fill="#404040">10</text>
<text x="218.5" y="477.76" font-size="6" text-anchor="end" fill="#404040">8</text>
<text x="218.5" y="504.76" font-size="6" text-anchor="end" fill="#404040">6</text>
</svg></body></html>
